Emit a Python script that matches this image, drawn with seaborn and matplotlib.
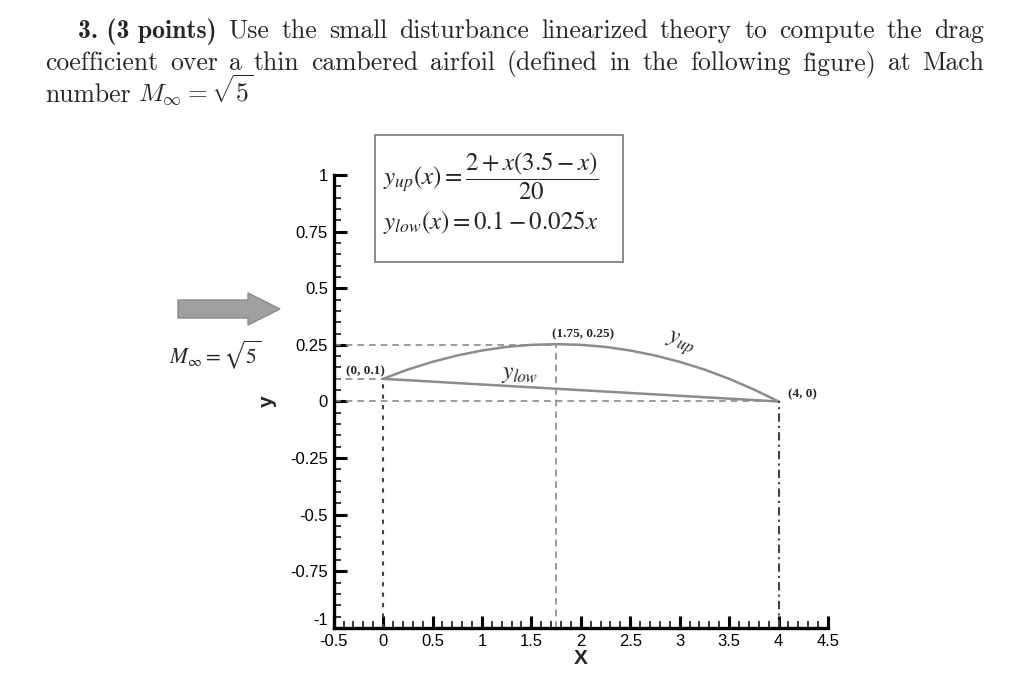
import numpy as np
import pandas as pd
import matplotlib
matplotlib.use("Agg")
import matplotlib.pyplot as plt
import seaborn as sns
from matplotlib.patches import Rectangle, FancyArrow

sns.set_style("white")
plt.rcParams['font.family'] = ['Liberation Sans', 'DejaVu Sans']

# upper surface, every 0.25 in x
x_up = [0, 0.25, 0.5, 0.75, 1, 1.25, 1.5, 1.75, 2, 2.25, 2.5, 2.75, 3, 3.25, 3.5, 3.75, 4]
y_up = [0.1, 0.141, 0.175, 0.203, 0.225, 0.241, 0.25, 0.253, 0.25, 0.241, 0.225, 0.203,
        0.175, 0.141, 0.1, 0.053, 0]
# lower surface
x_low = [0, 4]
y_low = [0.1, 0]

# labelled points
pt_x = [0, 1.75, 4]
pt_y = [0.1, 0.25, 0]
pt_labels = ["(0, 0.1)", "(1.75, 0.25)", "(4, 0)"]

xticks = [-0.5, 0, 0.5, 1, 1.5, 2, 2.5, 3, 3.5, 4, 4.5]
xticklabels = ["-0.5", "0", "0.5", "1", "1.5", "2", "2.5", "3", "3.5", "4", "4.5"]
yticks = [-1, -0.75, -0.5, -0.25, 0, 0.25, 0.5, 0.75, 1]
yticklabels = ["-1", "-0.75", "-0.5", "-0.25", "0", "0.25", "0.5", "0.75", "1"]

df = pd.concat([
    pd.DataFrame({"x": x_up, "y": y_up, "surf": "up"}),
    pd.DataFrame({"x": x_low, "y": y_low, "surf": "low"}),
])

fig = plt.figure(figsize=(10.11, 6.91), dpi=100)
ax = fig.add_axes([0.330, 0.0912, 0.489, 0.6556])

sns.lineplot(data=df, x="x", y="y", hue="surf", palette={"up": "#8c8c8c", "low": "#8c8c8c"},
             sort=False, linewidth=1.8, legend=False, ax=ax)

# guide lines
gray = "#8a8a8a"
dark = "#444444"
ax.plot([-0.5, pt_x[1]], [pt_y[1]] * 2, ls=(0, (4, 3)), color=gray, lw=1.2)
ax.plot([-0.5, pt_x[0]], [pt_y[0]] * 2, ls=(0, (4, 3)), color=gray, lw=1.2)
ax.plot([-0.5, pt_x[2]], [pt_y[2]] * 2, ls=(0, (4, 3)), color=gray, lw=1.2)
ax.plot([pt_x[0]] * 2, [-1, pt_y[0]], ls=(0, (2, 3)), color=dark, lw=1.5)
ax.plot([pt_x[1]] * 2, [-1, pt_y[1]], ls=(0, (4, 3)), color=gray, lw=1.2)
ax.plot([pt_x[2]] * 2, [-1, pt_y[2]], ls=(0, (4, 2, 1, 2)), color=dark, lw=1.5)

ax.set_xlim(-0.5, 4.5)
ax.set_ylim(-1, 1)
ax.set_xticks(xticks)
ax.set_xticklabels(xticklabels)
ax.set_yticks(yticks)
ax.set_yticklabels(yticklabels)
ax.set_xticks(np.arange(-0.5, 4.55, 0.1), minor=True)
ax.set_yticks(np.arange(-1, 1.01, 0.05), minor=True)
ax.tick_params(which="major", direction="in", length=9, width=2.2, labelsize=12, pad=4, colors="black")
ax.tick_params(which="minor", direction="in", length=5, width=1.1, color="black")
ax.tick_params(axis="x", which="both", bottom=True, top=False)
ax.tick_params(axis="y", which="both", left=True, right=False)
for s in ["top", "right"]:
    ax.spines[s].set_visible(False)
for s in ["left", "bottom"]:
    ax.spines[s].set_linewidth(2.4)
    ax.spines[s].set_color("black")
ax.set_xlabel("X", fontsize=15, fontweight="bold", labelpad=0)
ax.set_ylabel("y", fontsize=15, fontweight="bold", labelpad=10)
ax.patch.set_alpha(0)
# the "-1" label sits a little higher, as in the source figure
ax.get_yticklabels()[0].set_va("bottom")

# point labels
lab_pos = [(-0.18, 0.135), (2.02, 0.295), (4.24, 0.03)]
for (lx, ly), t in zip(lab_pos, pt_labels):
    ax.text(lx, ly, t, fontsize=9.5, fontweight="bold", family="Liberation Serif",
            ha="center", va="center")
ax.text(3.0, 0.255, r"$y_{up}$", fontsize=17, math_fontfamily="stix", rotation=-22,
        ha="center", va="center")
ax.text(1.38, 0.118, r"$y_{low}$", fontsize=17, math_fontfamily="stix", rotation=-3,
        ha="center", va="center")

# formula box
fig.patches.append(Rectangle((375 / 1011, 1 - 262 / 691), 248 / 1011, 127 / 691,
                             transform=fig.transFigure, fill=False, edgecolor="#777777", lw=1.2))
fig.text(383 / 1011, 1 - 176 / 691, r"$y_{up}(x) = \dfrac{2+x(3.5-x)}{20}$", fontsize=18,
         math_fontfamily="stix", ha="left", va="center")
fig.text(383 / 1011, 1 - 222 / 691, r"$y_{low}\left(x\right) = 0.1 - 0.025x$", fontsize=18,
         math_fontfamily="stix", ha="left", va="center")

# free stream arrow
fig.patches.append(FancyArrow(178 / 1011, 1 - 309 / 691, 70 / 1011, 0, width=18 / 691,
                              head_width=32 / 691, head_length=32 / 1011, length_includes_head=False,
                              transform=fig.transFigure, facecolor="#a0a0a0", edgecolor="#8a8a8a", lw=1))
fig.text(215 / 1011, 1 - 355 / 691, r"$M_{\infty} = \sqrt{5}$", fontsize=15.5,
         math_fontfamily="stix", ha="center", va="center")

# problem statement, justified
fs = 18.5
renderer = fig.canvas.get_renderer()
lines = [
    (78, 38, [("3. (3 points)", "cmb10"), ("Use", "cmr10"), ("the", "cmr10"), ("small", "cmr10"),
              ("disturbance", "cmr10"), ("linearized", "cmr10"), ("theory", "cmr10"), ("to", "cmr10"),
              ("compute", "cmr10"), ("the", "cmr10"), ("drag", "cmr10")], True),
    (45, 70, [("coefficient", "cmr10"), ("over", "cmr10"), ("a", "cmr10"), ("thin", "cmr10"),
              ("cambered", "cmr10"), ("airfoil", "cmr10"), ("(defined", "cmr10"), ("in", "cmr10"),
              ("the", "cmr10"), ("following", "cmr10"), ("figure)", "cmr10"), ("at", "cmr10"),
              ("Mach", "cmr10")], True),
    (45, 102, [("number", "cmr10"), (r"$M_{\infty} = \sqrt{5}$", "cmr10")], False),
]
right = 984
for x0, yb, words, justify in lines:
    objs = []
    for w, fam in words:
        t = fig.text(0, 1 - yb / 691, w, fontsize=fs, family=fam, math_fontfamily="cm",
                     ha="left", va="baseline")
        objs.append(t)
    widths = [o.get_window_extent(renderer).width for o in objs]
    if justify:
        gap = (right - x0 - sum(widths)) / (len(objs) - 1)
    else:
        gap = 7
    xp = x0
    for o, wd in zip(objs, widths):
        o.set_x(xp / 1011)
        xp += wd + gap

fig.savefig("out.png", dpi=100)
